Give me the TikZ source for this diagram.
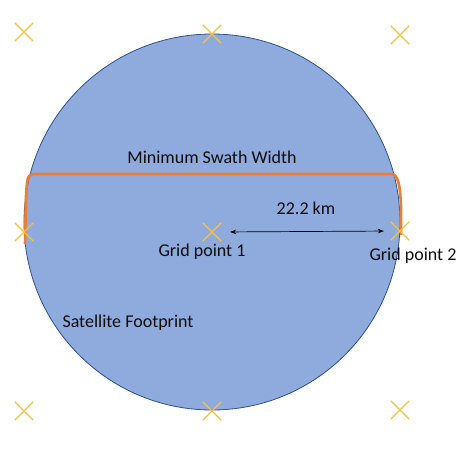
\documentclass[tikz,border=0pt]{standalone}
\usepackage{fontspec}
\setmainfont{Carlito}
\usetikzlibrary{arrows.meta,shapes.misc}
\definecolor{footfill}{HTML}{8FAADC}
\definecolor{footedge}{HTML}{2F528F}
\definecolor{swathorange}{HTML}{ED7D31}
\definecolor{gridyellow}{HTML}{F5C242}
\begin{document}
\begin{tikzpicture}[x=1pt,y=-1pt,
	gridpt/.style={cross out,draw=gridyellow,line width=1.3pt,minimum size=17pt,inner sep=0pt},
	lbl/.style={font=\fontsize{18}{21}\selectfont,text=black!95,inner sep=0pt}]
	\tikzstyle{every node}+=[inner sep=0pt]
	\useasboundingbox (0,0) rectangle (474,452);
	% footprint
	\draw [footedge,fill=footfill,line width=0.8pt] (212,222) circle [radius=188pt];
	% swath
	\draw [swathorange,line width=2.6pt] (25,244) -- (26,196) .. controls (27,180) and (27,174) .. (34,174) -- (391,174) .. controls (398,174) and (400,184) .. (401,206) -- (401,235);
	% grid points
	\node [gridpt] (g11) at (24,32) {};
	\node [gridpt] (g12) at (212,34) {};
	\node [gridpt] (g13) at (400,35) {};
	\node [gridpt] (g21) at (24,232) {};
	\node [gridpt] (g22) at (212,232) {};
	\node [gridpt] (g23) at (400,231) {};
	\node [gridpt] (g31) at (24,411) {};
	\node [gridpt] (g32) at (212,411) {};
	\node [gridpt] (g33) at (400,410) {};
	\draw [{Stealth[length=6pt,width=4.5pt]}-{Stealth[length=6pt,width=4.5pt]},line width=0.7pt,shorten <=9pt,shorten >=7pt] (g22.east) -- (g23.west);
	% labels
	\node [lbl] (swath) at (212,157) {Minimum Swath Width};
	\node [lbl] (dist) at (306,208) {22.2 km};
	\node [lbl] (lab1) at (202,252) {Grid point 1};
	\node [lbl] (lab2) at (413,256) {Grid point 2};
	\node [lbl] (foot) at (128,323) {Satellite Footprint};
\end{tikzpicture}
\end{document}
